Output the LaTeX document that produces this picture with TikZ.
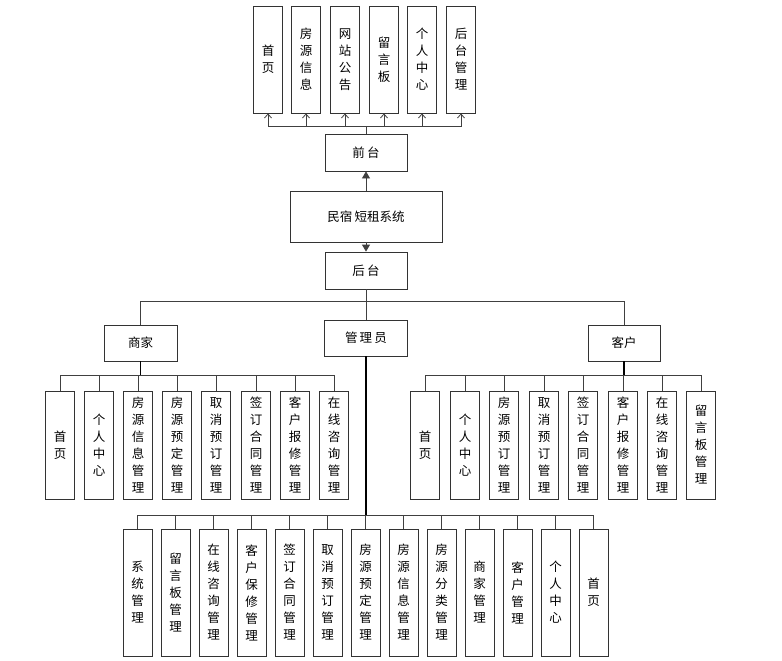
\documentclass[tikz,border=0pt]{standalone}
\usepackage{fontspec}
\setmainfont{Noto Sans CJK SC}
\usetikzlibrary{arrows.meta}
\begin{document}
\begin{tikzpicture}[x=1pt,y=-1pt,
  box/.style={draw=black!80,line width=0.8pt,fill=white,inner sep=0pt,font=\fontsize{12.5}{17}\selectfont,align=center},
  vbox/.style={box,minimum width=29pt,text width=13pt},
  ln/.style={draw=black!75,line width=0.8pt},
  tk/.style={draw=black,line width=1.6pt}]
\useasboundingbox (0,0) rectangle (782,661);
% top
\foreach \n/\x/\t in {t1/268/首\\页,t2/306/房\\源\\信\\息,t3/345/网\\站\\公\\告,t4/384/留\\言\\板,t5/422/个\\人\\中\\心,t6/461/后\\台\\管\\理}
  \node[vbox,minimum height=107pt] (\n) at (\x,59.5) {\t};
\node[box,minimum width=82pt,minimum height=37pt] (front) at (366,152.5) {前\,台};
\node[box,minimum width=152pt,minimum height=51pt] (sys) at (366,216.5) {民宿\,短租系统};
\node[box,minimum width=82pt,minimum height=37pt] (back) at (366,270.5) {后\,台};
\draw[ln] (front.north) -- ++(0,-7) coordinate (tb);
\draw[ln] (t1.south |- tb) -- (t6.south |- tb);
\foreach \n in {t1,t2,t3,t4,t5,t6}
  \draw[ln,-{Straight Barb[length=4pt,width=7pt]}] (\n.south |- tb) -- (\n.south);
\draw[ln,-{Triangle[length=7pt,width=8pt]}] (sys.north) -- (front.south);
\draw[ln,-{Triangle[length=7pt,width=8pt]}] (sys.south) -- (back.north);
% level 2
\node[box,minimum width=73pt,minimum height=36pt] (sj) at (140.5,343) {商家};
\node[box,minimum width=83pt,minimum height=36pt] (gl) at (366,338) {管\,理\,员};
\node[box,minimum width=72pt,minimum height=36pt] (kh) at (624,343) {客户};
\draw[ln] (back.south) -- ++(0,12) coordinate (b2);
\draw[ln] (sj.north) |- (b2) -| (kh.north);
\draw[ln] (b2) -- (gl.north);
% merchant
\foreach \n/\x/\t in {s1/60/首\\页,s2/99/个\\人\\中\\心,s3/138/房\\源\\信\\息\\管\\理,s4/177/房\\源\\预\\定\\管\\理,s5/216/取\\消\\预\\订\\管\\理,s6/256/签\\订\\合\\同\\管\\理,s7/295/客\\户\\报\\修\\管\\理,s8/334/在\\线\\咨\\询\\管\\理}
  \node[vbox,minimum height=108pt] (\n) at (\x,445) {\t};
\draw[tk] (sj.south) -- ++(0,14) coordinate (sb);
\draw[ln] (s1.north |- sb) -- (s8.north |- sb);
\foreach \n in {s1,s2,s3,s4,s5,s6,s7,s8} \draw[ln] (\n.north |- sb) -- (\n.north);
% customer
\foreach \n/\x/\t in {k1/425/首\\页,k2/465/个\\人\\中\\心,k3/504/房\\源\\预\\订\\管\\理,k4/544/取\\消\\预\\订\\管\\理,k5/583/签\\订\\合\\同\\管\\理,k6/623/客\\户\\报\\修\\管\\理,k7/662/在\\线\\咨\\询\\管\\理,k8/701/留\\言\\板\\管\\理}
  \node[vbox,minimum height=108pt] (\n) at (\x,445) {\t};
\draw[tk] (kh.south) -- ++(0,14) coordinate (kb);
\draw[ln] (k1.north |- kb) -- (k8.north |- kb);
\foreach \n in {k1,k2,k3,k4,k5,k6,k7,k8} \draw[ln] (\n.north |- kb) -- (\n.north);
% admin
\foreach \n/\x/\t in {a1/137.5/系\\统\\管\\理,a2/175.5/留\\言\\板\\管\\理,a3/213.5/在\\线\\咨\\询\\管\\理,a4/251.5/客\\户\\保\\修\\管\\理,a5/289.5/签\\订\\合\\同\\管\\理,a6/327.5/取\\消\\预\\订\\管\\理,a7/365.5/房\\源\\预\\定\\管\\理,a8/403.5/房\\源\\信\\息\\管\\理,a9/441.5/房\\源\\分\\类\\管\\理,a10/479.5/商\\家\\管\\理,a11/517.5/客\\户\\管\\理,a12/555.5/个\\人\\中\\心,a13/593.5/首\\页}
  \node[vbox,minimum height=127pt] (\n) at (\x,592.5) {\t};
\draw[tk] (gl.south) -- (gl.south |- 0,515) coordinate (ab);
\draw[ln] (a1.north |- ab) -- (a13.north |- ab);
\foreach \n in {a1,a2,a3,a4,a5,a6,a7,a8,a9,a10,a11,a12,a13} \draw[ln] (\n.north |- ab) -- (\n.north);
\end{tikzpicture}
\end{document}
